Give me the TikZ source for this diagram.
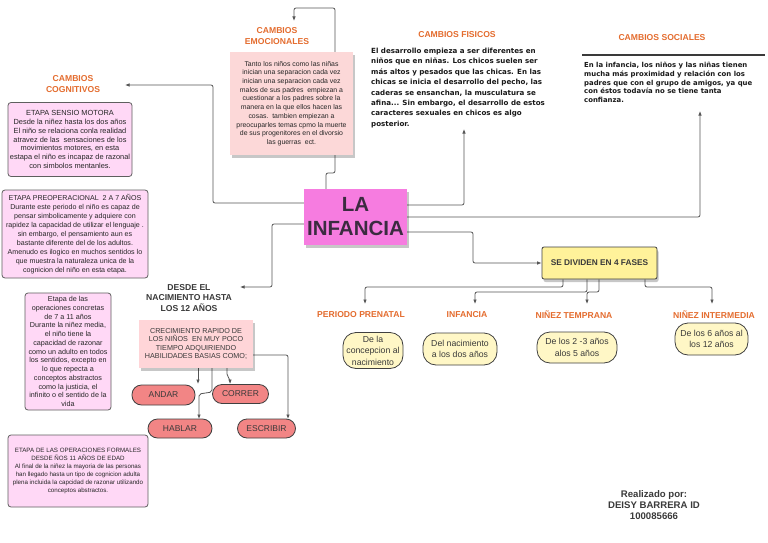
\documentclass[tikz,border=0pt]{standalone}
\usepackage{fontspec}
\setmainfont{Liberation Sans}
\newfontfamily\tahomalike{DejaVu Sans}
\usetikzlibrary{arrows.meta,shadows}
\definecolor{orng}{HTML}{E46C2E}
\definecolor{cgray}{HTML}{555555}
\definecolor{dgray}{HTML}{3A3A3A}
\definecolor{infpink}{HTML}{F67CE0}
\definecolor{inftext}{HTML}{3B2B40}
\definecolor{emof}{HTML}{FCD8D8}
\definecolor{pinkf}{HTML}{FFD8F6}
\definecolor{pbord}{HTML}{5F5F5F}
\definecolor{crecf}{HTML}{FFD5D8}
\definecolor{ovalf}{HTML}{F28585}
\definecolor{obord}{HTML}{404040}
\definecolor{divf}{HTML}{FFF29A}
\definecolor{pillf}{HTML}{FFF7C6}
\pgfdeclarelayer{bg0}
\pgfdeclarelayer{connlayer}
\pgfsetlayers{bg0,connlayer,main}
\begin{document}
\begin{tikzpicture}[x=1pt,y=-1pt,
  conn/.style={draw=cgray,line width=0.8pt,rounded corners=2pt,-{Latex[length=4.5pt,width=3.6pt]}},
  ttl/.style={text=orng,font=\bfseries\fontsize{8.6}{10.5}\selectfont,align=center,inner sep=1pt},
  shd/.style={drop shadow={shadow xshift=1.5pt,shadow yshift=-3pt,opacity=0.22,fill=black}},
  infbox/.style={fill=infpink,minimum width=103pt,minimum height=56pt,align=center,inner sep=0pt,
    text=inftext,font=\bfseries\fontsize{20.5}{24}\selectfont,shd},
  emobox/.style={fill=emof,minimum width=123pt,minimum height=103pt,align=center,inner sep=1pt,
    font=\fontsize{6.9}{8.7}\selectfont,text=black!85,shd},
  pinkbox/.style={draw=pbord,fill=pinkf,line width=0.8pt,rounded corners=3pt,align=center,inner sep=1pt,text=black!85},
  crecbox/.style={fill=crecf,minimum width=114pt,minimum height=48pt,align=center,inner sep=1pt,
    font=\fontsize{7.2}{8.6}\selectfont,text=dgray,shd},
  ovalbox/.style={draw=obord,fill=ovalf,line width=0.8pt,rounded corners=9.5pt,text=dgray,inner sep=0pt,
    font=\fontsize{8.5}{10}\selectfont},
  divbox/.style={draw=obord,fill=divf,line width=0.8pt,rounded corners=2pt,minimum width=115pt,minimum height=32pt,
    font=\bfseries\fontsize{8.3}{10}\selectfont,text=dgray,shd},
  fase/.style={text=orng,font=\bfseries\fontsize{8.6}{10}\selectfont,inner sep=0pt},
  pill/.style={draw=obord,fill=pillf,line width=0.8pt,rounded corners=13pt,align=center,inner sep=0pt,
    font=\fontsize{8.7}{11.5}\selectfont,text=dgray},
  bodytext/.style={align=left,inner sep=0pt,anchor=north west,text=black!90}
]
\useasboundingbox (0,0) rectangle (768,543);
\begin{pgfonlayer}{bg0}
\fill[white] (0,0) rectangle (768,543);
\end{pgfonlayer}

% central node
\node[infbox] (inf) at (355.5,217) {LA\\INFANCIA};

% emocionales
\node[ttl] (emot) at (277,36) {CAMBIOS\\EMOCIONALES};
\node[emobox] (emo) at (291.5,103.5) {Tanto los niños como las niñas\\inician una separacion cada vez\\inician una separacion cada vez\\malos de sus padres\ \ empiezan a\\cuestionar a los padres sobre la\\manera en la que ellos hacen las\\cosas.\ \ tambien empiezan a\\preocuparles temas cpmo la muerte\\de sus progenitores en el divorsio\\las guerras\ \ ect.};

% fisicos
\node[ttl] (fist) at (457,35) {CAMBIOS FISICOS};
\node[bodytext,font=\tahomalike\bfseries\fontsize{7.1}{10.4}\selectfont] (fis) at (371,48) {El desarrollo empieza a ser diferentes en\\niños que en niñas. Los chicos suelen ser\\más altos y pesados que las chicas. En las\\chicas se inicia el desarrollo del pecho, las\\caderas se ensanchan, la musculatura se\\afina... Sin embargo, el desarrollo de estos\\caracteres sexuales en chicos es algo\\posterior.};

% sociales
\node[ttl] (soct) at (662,38) {CAMBIOS SOCIALES};
\coordinate (sl1) at (582,55);
\coordinate (sl2) at (765,55);
\draw[line width=1.5pt,draw=dgray] (sl1) -- (sl2);
\node[bodytext,font=\tahomalike\bfseries\fontsize{6.9}{8.75}\selectfont] (soc) at (584,62) {En la infancia, los niños y las niñas tienen\\mucha más proximidad y relación con los\\padres que con el grupo de amigos, ya que\\con éstos todavía no se tiene tanta\\confianza.};

% cognitivos
\node[ttl] (cogt) at (73,84) {CAMBIOS\\COGNITIVOS};
\node[pinkbox,minimum width=124pt,minimum height=74pt,font=\fontsize{7.4}{8.9}\selectfont] (p1) at (70,139.5) {ETAPA SENSIO MOTORA\\Desde la niñez hasta los dos años\\El niño se relaciona conla realidad\\atravez de las\ \ sensaciones de los\\movimientos motores, en esta\\estapa el niño es incapaz de razonal\\con simbolos mentanles.};
\node[pinkbox,minimum width=146pt,minimum height=88pt,font=\fontsize{7.1}{8.95}\selectfont] (p2) at (75,234) {ETAPA PREOPERACIONAL\ \ 2 A 7 AÑOS\\Durante este periodo el niño es capaz de\\pensar simbolicamente y adquiere con\\rapidez la capacidad de utilizar el lenguaje .\\sin embargo, el pensamiento aun es\\bastante diferente del de los adultos.\\Amenudo es ilogico en muchos sentidos lo\\que muestra la naturaleza unica de la\\cognicion del niño en esta etapa.};
\node[pinkbox,minimum width=86pt,minimum height=117pt,font=\fontsize{7.2}{8.75}\selectfont] (p3) at (68,351.5) {Etapa de las\\operaciones concretas\\de 7 a 11 años\\Durante la niñez media,\\el niño tiene la\\capacidad de razonar\\como un adulto en todos\\los sentidos, excepto en\\lo que repecta a\\conceptos abstractos\\como la justicia, el\\infinito o el sentido de la\\vida};
\node[pinkbox,minimum width=140pt,minimum height=72pt,font=\fontsize{6.2}{8}\selectfont] (p4) at (78,471) {ETAPA DE LAS OPERACIONES FORMALES\\DESDE ÑOS 11 AÑOS DE EDAD\\Al final de la niñez la mayoria de las personas\\han llegado hasta un tipo de cognicion adulta\\plena incluida la capcidad de razonar utilizando\\conceptos abstractos.};

% desde el nacimiento
\node[align=center,font=\bfseries\fontsize{8.6}{10.5}\selectfont,text=dgray,inner sep=0pt] (desde) at (189,298) {DESDE EL\\NACIMIENTO HASTA\\LOS 12 AÑOS};
\node[crecbox] (crec) at (196,344) {CRECIMIENTO RAPIDO DE\\LOS NIÑOS\ \ EN MUY POCO\\TIEMPO ADQUIRIENDO\\HABILIDADES BASIAS COMO;};
\node[ovalbox,minimum width=63pt,minimum height=20pt] (andar) at (163.5,395) {ANDAR};
\node[ovalbox,minimum width=56pt,minimum height=19pt] (correr) at (240.5,394) {CORRER};
\node[ovalbox,minimum width=64pt,minimum height=19pt] (hablar) at (180,428.5) {HABLAR};
\node[ovalbox,minimum width=58pt,minimum height=19pt] (escribir) at (266.5,428.5) {ESCRIBIR};

% fases
\node[divbox] (div) at (599.5,263) {SE DIVIDEN EN 4 FASES};
\node[fase] (pren) at (361,315) {PERIODO PRENATAL};
\node[fase] (infa) at (467,315) {INFANCIA};
\node[fase] (temp) at (574,315) {NIÑEZ TEMPRANA};
\node[fase] (inte) at (714,315) {NIÑEZ INTERMEDIA};
\node[pill,minimum width=60pt,minimum height=36pt] (q1) at (373,350.5) {De la\\concepcion al\\nacimiento};
\node[pill,minimum width=74pt,minimum height=32pt] (q2) at (460,349) {Del nacimiento\\a los dos años};
\node[pill,minimum width=80pt,minimum height=31pt] (q3) at (577,347.5) {De los 2 -3 años\\alos 5 años};
\node[pill,minimum width=73pt,minimum height=32pt] (q4) at (711.5,339) {De los 6 años al\\los 12 años};

% realizado
\node[align=center,font=\bfseries\fontsize{9.6}{11}\selectfont,text=dgray,inner sep=0pt] (real) at (654,505) {Realizado por:\\DEISY BARRERA ID\\100085666};

% arrow end points
\coordinate (emoin) at (294,21);
\coordinate (cogin) at (125,85);
\coordinate (desdein) at (240,287);
\coordinate (fisin) at (464,129);
\coordinate (socin) at (700,111);
\coordinate (a1) at (365,304);
\coordinate (a2) at (475,304);
\coordinate (a3) at (587,304);
\coordinate (a4) at (712,304);
\coordinate (c1) at (198,384);
\coordinate (c2) at (199,419);
\coordinate (c3) at (230,384);
\coordinate (c4) at (288,419);

\begin{pgfonlayer}{connlayer}
\draw[conn] ([xshift=-29.5pt]inf.north) |- (335,173) |- (294,8) -- (emoin);
\draw[conn] ([yshift=14pt]inf.west) -| (213,85) -- (cogin);
\draw[conn] ([yshift=-7pt]inf.west) -| (272,287) -- (desdein);
\draw[conn] ([yshift=12pt]inf.east) -| (fisin);
\draw[conn] (inf.east) -| (socin);
\draw[conn] ([yshift=-15pt]inf.east) -| (473,263) -- (div.west);
\draw[conn] ([xshift=-36.5pt]div.south) |- (365,287) -- (a1);
\draw[conn] ([xshift=-12.5pt]div.south) |- (475,292) -- (a2);
\draw[conn] ([xshift=-0.5pt]div.south) |- (587,292) -- (a3);
\draw[conn] ([xshift=45.5pt]div.south) |- (712,287) -- (a4);
\draw[conn] ([xshift=2pt]crec.south) -- (c1);
\draw[conn] ([xshift=16pt]crec.south) -- (212,392) -- (199,394) -- (c2);
\draw[conn] ([xshift=31pt]crec.south) -- (227,376) -- (230,379) -- (c3);
\draw[conn] ([yshift=-11pt]crec.east) -| (c4);
\end{pgfonlayer}
\end{tikzpicture}
\end{document}
